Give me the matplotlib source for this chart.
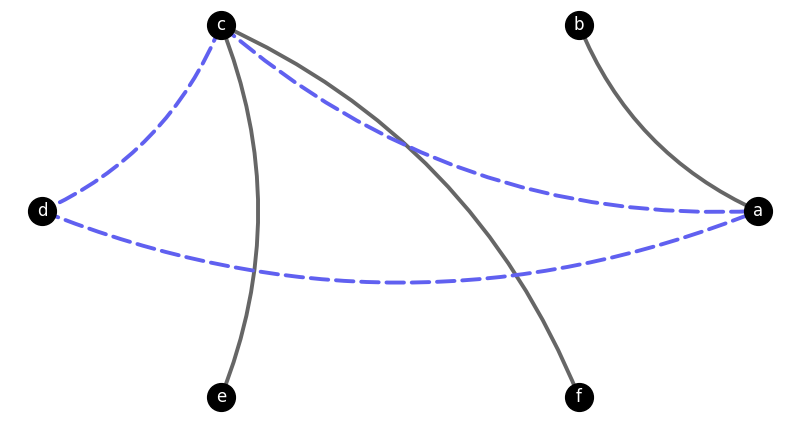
import matplotlib
matplotlib.use("Agg")
import matplotlib.pyplot as plt
from matplotlib.patches import FancyArrowPatch
import numpy as np

nodes = ["a", "b", "c", "d", "e", "f"]
angles_deg = [0, 60, 120, 180, 240, 300]
solid_edges = [("b", "a", 0.2), ("c", "e", -0.2), ("c", "f", -0.2)]
dashed_edges = [("c", "d", -0.2), ("c", "a", 0.2), ("d", "a", 0.2)]

pos = {n: (np.cos(np.radians(a)), np.sin(np.radians(a))) for n, a in zip(nodes, angles_deg)}

fig = plt.figure(figsize=(8, 4.22), dpi=100)
ax = fig.add_axes([0, 0, 1, 1])
ax.set_xlim(-1.117, 1.117)
ax.set_ylim(-0.982, 0.982)
ax.axis("off")

def draw(edges, color, ls):
    for u, v, rad in edges:
        p = FancyArrowPatch(pos[u], pos[v], connectionstyle=f"arc3,rad={rad}",
                            arrowstyle="-", color=color, lw=2.8, linestyle=ls,
                            shrinkA=0, shrinkB=0, zorder=1)
        ax.add_patch(p)

draw(solid_edges, "#666666", "-")
draw(dashed_edges, "#6060f0", (0, (4.5, 2)))

xs = [pos[n][0] for n in nodes]
ys = [pos[n][1] for n in nodes]
ax.scatter(xs, ys, s=400, c="black", zorder=3)
for n in nodes:
    ax.text(pos[n][0], pos[n][1], n, color="white", fontsize=12, ha="center", va="center", zorder=4)

fig.savefig("out.png", dpi=100)
